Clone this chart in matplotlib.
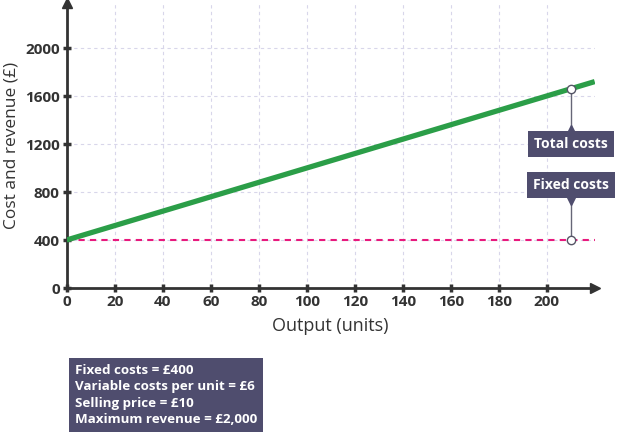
import matplotlib

matplotlib.use("Agg")

import matplotlib.pyplot as plt
import numpy as np

# chart values
fixed_costs = 400
variable_cost = 6
output_units = [0, 220]
total_costs = [fixed_costs + variable_cost * u for u in output_units]
x_ticks = list(range(0, 201, 20))
y_ticks = [0, 400, 800, 1200, 1600, 2000]
marker_unit = 210
info_lines = [
    "Fixed costs = £400",
    "Variable costs per unit = £6",
    "Selling price = £10",
    "Maximum revenue = £2,000",
]

plt.rcParams["font.family"] = ["Open Sans", "DejaVu Sans"]
dark = "#333333"
box_col = "#4f4d6e"

fig = plt.figure(figsize=(6.24, 4.34), dpi=100)
ax = fig.add_axes([66.7 / 624, 146 / 434, 528 / 624, 285 / 434])
ax.set_xlim(0, 220)
ax.set_ylim(0, 2375)

for x in x_ticks[1:]:
    ax.axvline(x, color="#d8d6ea", lw=0.8, ls=(0, (3, 3)), zorder=0)
for y in y_ticks[1:]:
    ax.axhline(y, color="#d8d6ea", lw=0.8, ls=(0, (3, 3)), zorder=0)

ax.plot(output_units, [fixed_costs, fixed_costs], color="#e8197d", lw=1.5,
        ls=(0, (3, 2.5)), zorder=2)
ax.plot(output_units, total_costs, color="#2b9e48", lw=3.8, zorder=3,
        solid_capstyle="butt")

for s in ["top", "right"]:
    ax.spines[s].set_visible(False)
for s in ["left", "bottom"]:
    ax.spines[s].set_color(dark)
    ax.spines[s].set_linewidth(2)
ax.plot(1, 0, ">", transform=ax.transAxes, color=dark, ms=7, clip_on=False)
ax.plot(0, 1, "^", transform=ax.transAxes, color=dark, ms=7, clip_on=False)

ax.set_xticks(x_ticks)
ax.set_yticks(y_ticks)
ax.tick_params(direction="inout", length=6, width=2.5, color=dark,
               labelsize=11, labelcolor=dark, pad=2)
for lab in ax.get_xticklabels() + ax.get_yticklabels():
    lab.set_fontweight("bold")

ax.set_xlabel("Output (units)", fontsize=13, color=dark, labelpad=6)
ax.set_ylabel("Cost and revenue (£)", fontsize=12.5, color=dark, labelpad=4)

# callouts
tc_y = fixed_costs + variable_cost * marker_unit
ax.plot([marker_unit, marker_unit], [tc_y, 1310], color="#666677", lw=1, zorder=4)
ax.plot([marker_unit, marker_unit], [fixed_costs, 760], color="#666677", lw=1, zorder=4)
ax.plot([marker_unit], [1318], "^", color=box_col, ms=7, zorder=5)
ax.plot([marker_unit], [735], "v", color=box_col, ms=7, zorder=5)
ax.text(marker_unit, 1200, "Total costs", ha="center", va="center", color="white",
        fontsize=10, fontweight="bold", zorder=6,
        bbox=dict(boxstyle="square,pad=0.45", fc=box_col, ec="none"))
ax.text(marker_unit, 858, "Fixed costs", ha="center", va="center", color="white",
        fontsize=10, fontweight="bold", zorder=6,
        bbox=dict(boxstyle="square,pad=0.45", fc=box_col, ec="none"))
ax.plot([marker_unit, marker_unit], [tc_y, fixed_costs], "o", ms=6, mfc="white",
        mec="#555566", mew=1, ls="none", zorder=7)

fig.text(75 / 624, 1 - 395 / 434, "\n".join(info_lines), ha="left", va="center",
         color="white", fontsize=9.6, fontweight="bold", linespacing=1.33,
         bbox=dict(boxstyle="square,pad=0.45", fc=box_col, ec="none"))

fig.savefig("out.png", dpi=100)
